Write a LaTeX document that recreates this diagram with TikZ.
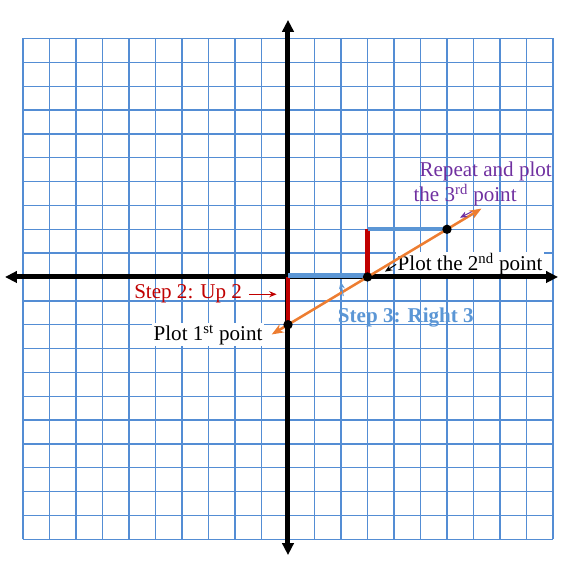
\documentclass[tikz,border=0pt]{standalone}
\usepackage{fontspec}
\setmainfont{Liberation Serif}
\usetikzlibrary{arrows.meta}
\definecolor{gridblue}{RGB}{84,141,212}
\definecolor{stepblue}{RGB}{91,150,213}
\definecolor{stepred}{RGB}{192,0,0}
\definecolor{lineorange}{RGB}{237,125,49}
\definecolor{notepurple}{RGB}{112,48,160}
\tikzset{
  axis/.style={line width=3.75pt,{Triangle[width=8.5pt,length=9pt]}-{Triangle[width=8.5pt,length=9pt]}},
  redstep/.style={line width=3.2pt,stepred},
  bluestep/.style={line width=3.2pt,stepblue},
  slopeline/.style={line width=1.9pt,lineorange,{Stealth[length=9pt,width=7pt]}-{Stealth[length=9pt,width=7pt]}},
  note/.style={font=\fontsize{15.8}{18}\selectfont,inner sep=0pt,anchor=base west},
  pointer/.style={line width=0.75pt,-{Stealth[length=5.5pt,width=4.5pt]}},
  dot/.style={circle,fill=black,inner sep=0pt,minimum size=7pt}
}

\begin{document}
\begin{tikzpicture}[x=19.875pt,y=17.8875pt]

  \useasboundingbox (-10.868,-12.034) rectangle (10.981,11.614);

  % grid
  \draw[gridblue,line width=1pt,step={(1,1)}] (-10,-11) grid (10,10);

  % the three points and the corner of the steps
  \coordinate (o) at (0,0);
  \coordinate (p1) at (0,-2);
  \coordinate (p2) at (3,0);
  \coordinate (c23) at (3,2);
  \coordinate (p3) at (6,2);

  % labels
  \node[note,stepred] (step2) at (-5.811,-0.922) {Step 2: Up 2};
  \node[note,fill=white,inner sep=1pt] (plot1) at (-5.13,-2.642) {Plot 1\textsuperscript{st} point};
  \node[note,stepblue,font=\fontsize{15.8}{18}\selectfont\bfseries] (step3) at (1.875,-1.899) {Step 3: Right 3};
  \node[note,fill=white,inner sep=1pt] (plot2) at (4.08,0.264) {Plot the 2\textsuperscript{nd} point};
  \node[note,notepurple] (rep1) at (4.955,4.205) {Repeat and plot};
  \node[note,notepurple] (rep2) at (4.728,3.157) {the 3\textsuperscript{rd} point};

  % axes
  \draw[axis] (-10.68,0) -- (10.19,0);
  \draw[axis] (0,-11.66) -- (0,10.78);

  % steps
  \draw[redstep] (o) -- (p1);
  \draw[bluestep] ([yshift=1.2pt]o) -- ([yshift=1.2pt]p2);
  \draw[redstep] (p2) -- (c23);
  \draw[bluestep] (c23) -- (p3);

  % line through the points
  \coordinate (oa) at (-0.615,-2.41);
  \coordinate (ob) at (7.3,2.867);
  \draw[slopeline] (oa) -- (ob);

  \node[dot] (d1) at (p1) {};
  \node[dot] (d2) at (p2) {};
  \node[dot] (d3) at (p3) {};

  % pointers
  \coordinate (s2tip) at (-0.43,-0.587);
  \coordinate (s3tip) at (1.987,-0.197);
  \coordinate (p2tip) at (3.66,0.222);
  \coordinate (reptip) at (6.491,2.486);
  \draw[pointer,stepred,shorten <=5pt] (step2.east) -- (step2.east -| s2tip);
  \draw[pointer,stepblue] ([shift={(4.2pt,8.5pt)}]step3.north west) -- (s3tip);
  \draw[pointer] (plot2.west) -- (p2tip);
  \draw[pointer,notepurple] ([shift={(43.8pt,-7.5pt)}]rep2.base west) -- (reptip);

\end{tikzpicture}
\end{document}
